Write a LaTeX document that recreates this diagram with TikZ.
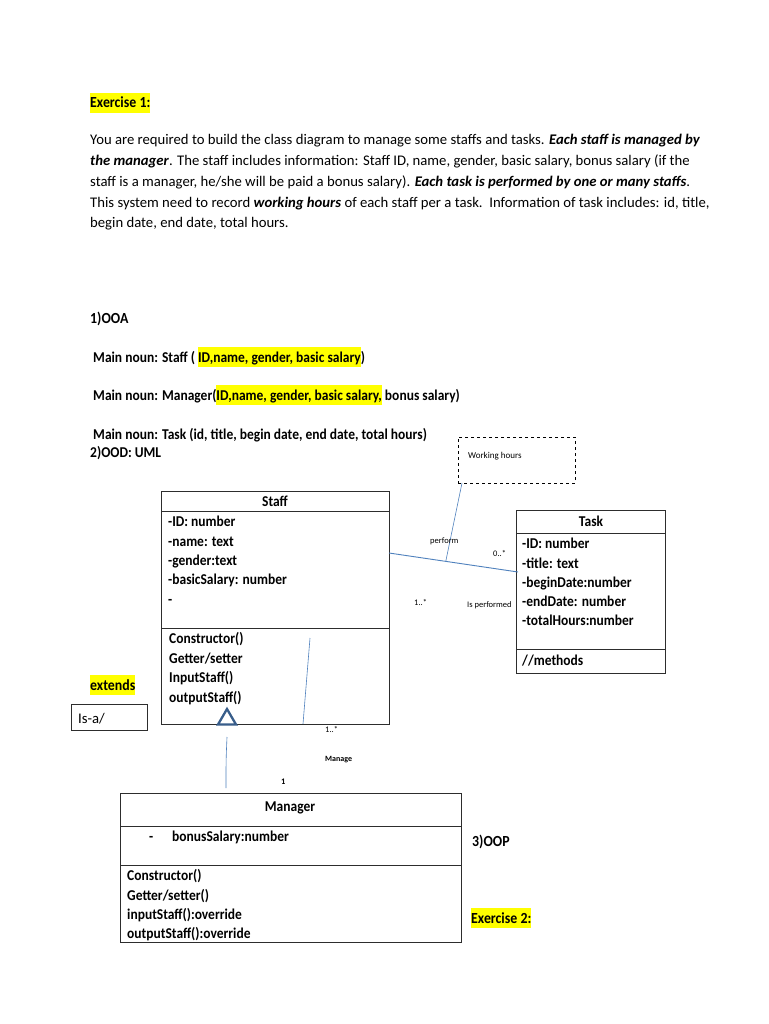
\documentclass[tikz,border=0pt]{standalone}
\usepackage{fontspec}
\setmainfont{Carlito}
\newfontfamily\narrowfont{Carlito}[FakeStretch=0.9]
\usetikzlibrary{calc}
\definecolor{hly}{RGB}{255,255,0}
\definecolor{lnblue}{RGB}{79,129,189}
\definecolor{tblue}{RGB}{56,93,138}
\definecolor{bord}{RGB}{45,45,45}
\newcommand\hlt[1]{{\setlength{\fboxsep}{0pt}\colorbox{hly}{\rule[-0.3em]{0pt}{1.3em}#1}}}
\begin{document}
\begin{tikzpicture}[x=1pt,y=-1pt,
  txt/.style={anchor=base west, inner sep=0pt, font=\fontsize{14.7}{20}\selectfont},
  htxt/.style={anchor=base west, inner sep=0pt, font=\narrowfont\fontsize{15.4}{20}\selectfont\bfseries},
  btxt/.style={anchor=base west, inner sep=0pt, font=\narrowfont\fontsize{15}{20}\selectfont\bfseries},
  ctxt/.style={anchor=base, inner sep=0pt, font=\narrowfont\fontsize{15}{20}\selectfont\bfseries},
  small/.style={anchor=base west, inner sep=0pt, font=\fontsize{8.5}{10}\selectfont},
  classbox/.style={draw=bord, line width=1pt, anchor=north west, inner sep=0pt, outer sep=0pt, fill=none},
  sep/.style={draw=bord, line width=1pt},
  assoc/.style={draw=lnblue, line width=0.9pt},
  thin/.style={draw=lnblue, line width=0.6pt},
  tri/.style={draw=tblue, line width=2.3pt, line join=miter, fill=white}
]
\useasboundingbox (0,0) rectangle (768,1024);
\fill[white] (0,0) rectangle (768,1024);

% ---------- header text ----------
\node[htxt] (ex1) at (90,108) {\hlt{Exercise 1:}};
\node[txt] (p1) at (90,145) {You are required to build the class diagram to manage some staffs and tasks. \textbf{\textit{Each staff is managed by}}};
\node[txt] (p2) at (90,166) {\textbf{\textit{the manager}}. The staff includes information: Staff ID, name, gender, basic salary, bonus salary (if the};
\node[txt] (p3) at (90,187) {staff is a manager, he/she will be paid a bonus salary). \textbf{\textit{Each task is performed by one or many staffs}}.};
\node[txt] (p4) at (90,208) {This system need to record \textbf{\textit{working hours}} of each staff per a task.\ \ Information of task includes: id, title,};
\node[txt] (p5) at (90,228) {begin date, end date, total hours.};

\node[htxt] (ooa) at (90,323) {1)OOA};
\node[btxt] (mn1) at (93,362) {Main noun: Staff ( \hlt{ID,name, gender, basic salary})};
\node[btxt] (mn2) at (93,400) {Main noun: Manager(\hlt{ID,name, gender, basic salary,} bonus salary)};
\node[btxt] (mn3) at (93,439) {Main noun: Task (id, title, begin date, end date, total hours)};
\node[btxt] (ood) at (90,457) {2)OOD: UML};

% ---------- Working hours note ----------
\node[draw=black, dashed, line width=1pt, anchor=north west, minimum width=117pt, minimum height=46pt, inner sep=0pt, outer sep=0pt] (note) at (458,437) {};
\node[small, font=\fontsize{9}{10}\selectfont] (notet) at (468,458) {Working hours};

% ---------- Staff class ----------
\node[classbox, minimum width=228pt, minimum height=233pt] (staff) at (161,491) {};
\draw[sep] (161,511) -- (389,511);
\draw[sep] (161,628) -- (389,628);
\node[ctxt] (staffh) at (275,506) {Staff};
\node[btxt] (s1) at (168,526) {-ID: number};
\node[btxt] (s2) at (168,546) {-name: text};
\node[btxt] (s3) at (168,565) {-gender:text};
\node[btxt] (s4) at (168,584) {-basicSalary: number};
\node[btxt] (s5) at (168,604) {-};
\node[btxt] (s6) at (169,643) {Constructor()};
\node[btxt] (s7) at (169,663) {Getter/setter};
\node[btxt] (s8) at (169,682) {InputStaff()};
\node[btxt] (s9) at (169,702) {outputStaff()};

% ---------- Task class ----------
\node[classbox, minimum width=149pt, minimum height=163pt] (task) at (516,510) {};
\draw[sep] (516,533) -- (665,533);
\draw[sep] (516,649) -- (665,649);
\node[ctxt] (taskh) at (591,526) {Task};
\node[btxt] (t1) at (522,548) {-ID: number};
\node[btxt] (t2) at (522,568) {-title: text};
\node[btxt] (t3) at (522,587) {-beginDate:number};
\node[btxt] (t4) at (522,606) {-endDate: number};
\node[btxt] (t5) at (522,625) {-totalHours:number};
\node[btxt] (t6) at (522,665) {//methods};

% ---------- Manager class ----------
\node[classbox, minimum width=341pt, minimum height=149pt] (mgr) at (120,793) {};
\draw[sep] (120,826) -- (461,826);
\draw[sep] (120,865) -- (461,865);
\node[ctxt] (mgrh) at (290,811) {Manager};
\node[btxt] (m0) at (149,841) {-};
\node[btxt] (m1) at (172,841) {bonusSalary:number};
\node[btxt] (m2) at (127,880) {Constructor()};
\node[btxt] (m3) at (127,900) {Getter/setter()};
\node[btxt] (m4) at (127,919) {inputStaff():override};
\node[btxt] (m5) at (127,938) {outputStaff():override};

% ---------- association Staff -- Task ----------
\coordinate (aS) at ($(staff.north east)+(0,62)$);
\coordinate (aT) at ($(task.north west)+(2,62)$);
\draw[assoc] (aS) -- (aT);
\coordinate (aM) at ($(aS)!0.44!(aT)$);
\draw[thin] ($(note.south west)+(4,0)$) -- (aM);
\node[small] (perform) at (430,543) {perform};
\node[small] (zm) at (493,556) {0..*};
\node[small] (om) at (414,605) {1..*};
\node[small] (isp) at (467,607) {Is performed};

% ---------- manage association ----------
\coordinate (mTop) at (310,638);
\draw[thin] (mTop) -- ($(staff.south west)+(142,0)$);
\node[small] (m1s) at (325,732) {1..*};
\node[small, font=\fontsize{8}{10}\selectfont\bfseries] (manage) at (325,761) {Manage};
\node[small, font=\fontsize{8.5}{10}\selectfont\bfseries] (one) at (281,784) {1};

% ---------- inheritance ----------
\draw[tri] (218,724.5) -- (227,709) -- (236,724.5) -- cycle;
\coordinate (inhTop) at (227,737);
\draw[thin] (inhTop) .. controls (226,760) .. ($(mgr.north west)+(106,-5)$);

% ---------- left notes ----------
\node[htxt] (ext) at (90,690) {\hlt{extends}};
\node[draw=bord, line width=1pt, anchor=north west, minimum width=76pt, minimum height=26pt, inner sep=0pt] (isa) at (71,704) {};
\node[txt] (isat) at (78,723) {Is-a/};

% ---------- right side ----------
\node[htxt] (oop) at (472,846) {3)OOP};
\node[htxt] (ex2) at (471,923) {\hlt{Exercise 2:}};
\end{tikzpicture}
\end{document}
